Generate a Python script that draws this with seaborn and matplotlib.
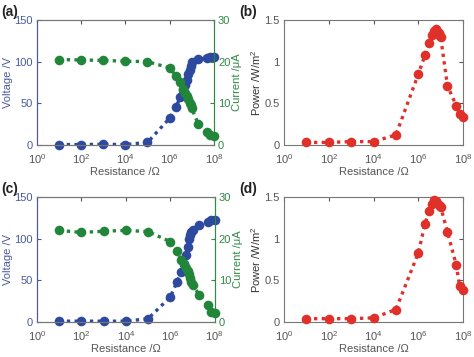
import matplotlib
matplotlib.use("Agg")
from matplotlib import pyplot as plt
import seaborn as sns
import pandas as pd
import numpy as np

# resistance (ohm)
resistance = [1e1, 1e2, 1e3, 1e4, 1e5, 1e6, 2e6, 3e6, 4e6, 5e6, 6e6, 7e6, 8e6, 9e6,
              1e7, 2e7, 5e7, 7e7, 1e8]

# panel (a)
voltage_a = [0.5, 0.5, 0.8, 0.5, 3, 32, 46, 57, 66, 72, 78, 85, 90, 95, 100, 103, 104, 105, 105]
current_a = [20.5, 20.4, 20.3, 20.1, 20.0, 18.5, 16.5, 15.0, 13.5, 12.5, 11.8, 11.0, 10.0,
             9.5, 8.8, 5.0, 3.0, 2.5, 2.1]
# panel (b)
power_b = [0.03, 0.03, 0.04, 0.04, 0.12, 0.85, 1.08, 1.22, 1.32, 1.37, 1.39, 1.37, 1.34,
           1.31, 1.29, 0.71, 0.47, 0.37, 0.33]
# panel (c)
voltage_c = [1, 1, 1, 1, 4, 30, 48, 60, 70, 80, 90, 100, 105, 108, 111, 117, 120, 122, 122]
current_c = [22.0, 21.5, 21.8, 22.0, 21.7, 19.3, 17.0, 15.0, 14.0, 13.0, 12.3, 11.5, 10.5,
             9.7, 9.0, 6.5, 4.0, 2.5, 2.2]
# panel (d)
power_d = [0.04, 0.04, 0.04, 0.05, 0.15, 0.83, 1.18, 1.33, 1.42, 1.46, 1.45, 1.43, 1.41,
           1.39, 1.38, 1.08, 0.68, 0.43, 0.38]

BLUE = "#2e4a9e"
GREEN = "#22863a"
RED = "#e0302a"
BLUE_TXT = "#4a5a9c"
GREEN_TXT = "#2e8a44"
GRAY = "#555555"
FS = 8

sns.set_style("white")
plt.rcParams['font.family'] = ['Liberation Sans', 'DejaVu Sans']
plt.rcParams['mathtext.fontset'] = 'custom'
plt.rcParams['mathtext.rm'] = 'Liberation Sans'
plt.rcParams['xtick.direction'] = 'in'
plt.rcParams['ytick.direction'] = 'in'

fig = plt.figure(figsize=(4.74, 3.57), dpi=100)

pos = {"a": [0.078, 0.594, 0.373, 0.350],
       "b": [0.599, 0.594, 0.378, 0.350],
       "c": [0.078, 0.098, 0.375, 0.350],
       "d": [0.599, 0.098, 0.378, 0.350]}


def style_x(ax):
    ax.set_xscale("log")
    ax.set_xlim(1, 1e8)
    ax.set_xticks([1, 1e2, 1e4, 1e6, 1e8])
    ax.set_xticklabels([r"$10^0$", r"$10^2$", r"$10^4$", r"$10^6$", r"$10^8$"])
    ax.minorticks_off()
    ax.tick_params(axis="x", colors=GRAY, labelsize=FS, length=3, top=True, pad=5)
    ax.set_xlabel("Resistance /Ω", fontsize=FS, color=GRAY, labelpad=1)
    for s in ["top", "bottom", "left", "right"]:
        ax.spines[s].set_color("#777777")
        ax.spines[s].set_linewidth(0.8)


def series(ax, y, color):
    df = pd.DataFrame({"R": resistance, "y": y})
    sns.lineplot(data=df, x="R", y="y", ax=ax, color=color, linestyle=(0, (1, 1.3)),
                 linewidth=2.4)
    sns.scatterplot(data=df, x="R", y="y", ax=ax, color=color, s=48, edgecolor=color,
                    linewidth=0, zorder=3, clip_on=False)


def vi_panel(key, volt, curr):
    ax = fig.add_axes(pos[key])
    series(ax, volt, BLUE)
    ax.set_ylim(0, 150)
    ax.set_yticks([0, 50, 100, 150])
    ax.tick_params(axis="y", colors=BLUE_TXT, labelsize=FS, length=3, pad=3)
    ax.set_ylabel("Voltage /V", fontsize=FS, color=BLUE_TXT, labelpad=1)
    ax2 = ax.twinx()
    series(ax2, curr, GREEN)
    ax2.set_ylim(0, 30)
    ax2.set_yticks([0, 10, 20, 30])
    ax2.tick_params(axis="y", colors=GREEN_TXT, labelsize=FS, length=3, direction="in", pad=3)
    ax2.set_ylabel("Current /μA", fontsize=FS, color=GREEN_TXT, labelpad=1)
    style_x(ax)
    ax2.set_xlabel("")
    ax2.minorticks_off()
    ax2.tick_params(axis="x", top=False, bottom=False, labelbottom=False)
    ax.spines["left"].set_color(BLUE_TXT)
    ax2.spines["right"].set_color(GREEN_TXT)
    ax2.spines["left"].set_color(BLUE_TXT)
    for s in ["top", "bottom"]:
        ax2.spines[s].set_color("#777777")
    return ax


def power_panel(key, power):
    ax = fig.add_axes(pos[key])
    series(ax, power, RED)
    ax.set_ylim(0, 1.5)
    ax.set_yticks([0, 0.5, 1, 1.5])
    ax.set_yticklabels(["0", "0.5", "1", "1.5"])
    ax.tick_params(axis="y", colors=GRAY, labelsize=FS, length=3, right=True, pad=3)
    ax.set_ylabel(r"Power /W/m$^2$", fontsize=FS, color="#333333", labelpad=1)
    style_x(ax)
    return ax


vi_panel("a", voltage_a, current_a)
power_panel("b", power_b)
vi_panel("c", voltage_c, current_c)
power_panel("d", power_d)

for lbl, x, y in [("(a)", 0.002, 0.955), ("(b)", 0.505, 0.955),
                  ("(c)", 0.002, 0.46), ("(d)", 0.505, 0.46)]:
    fig.text(x, y, lbl, fontsize=10, fontweight="bold", color="#222222")

fig.savefig("out.png", dpi=100)
